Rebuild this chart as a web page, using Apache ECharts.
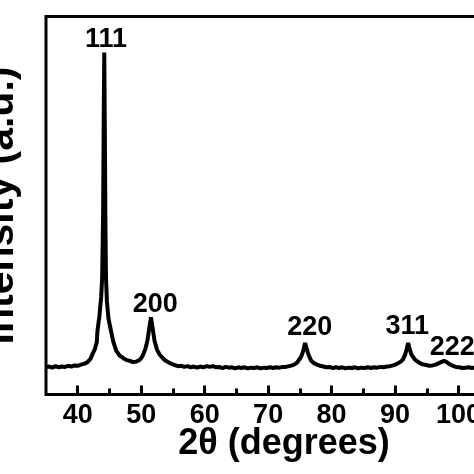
<!DOCTYPE html>
<html>
<head>
<meta charset="utf-8">
<script src="https://cdn.jsdelivr.net/npm/echarts@6/dist/echarts.min.js"></script>
<style>
html,body{margin:0;padding:0;background:#fff;}
#chart{width:474px;height:474px;}
</style>
</head>
<body>
<div id="chart"></div>
<script>
// 2θ positions (degrees)
const twoTheta = [
35,35.5,36,36.5,37,37.5,38,38.5,39,39.5,40,40.5,41,41.5,42,42.3,42.7,43.0,43.11,43.4,43.7,43.85,44.0,44.1,44.18,44.27,44.36,44.45,44.6,44.85,45.27,45.6,46.06,46.6,47.2,47.7,48.2,48.7,49.2,49.6,50.0,50.3,50.65,50.98,51.25,51.54,51.8,52.09,52.5,52.9,53.3,53.8,54.3,54.8,55.3,55.8,56.3,56.8,57.3,57.8,58.3,58.8,59.3,59.8,60.3,60.8,61.3,61.8,62.3,62.8,63.3,63.8,64.3,64.8,65.3,65.8,66.3,66.8,67.3,67.8,68.3,68.8,69.3,69.8,70.3,70.8,71.3,71.8,72.3,72.8,73.3,73.8,74.2,74.6,74.87,75.2,75.5,75.7,75.83,76.0,76.3,76.76,77.2,77.7,78.2,78.7,79.2,79.7,80.2,80.7,81.2,81.7,82.2,82.7,83.2,83.7,84.2,84.7,85.2,85.7,86.2,86.7,87.2,87.7,88.2,88.7,89.2,89.7,90.3,90.9,91.25,91.6,91.85,92.06,92.3,92.6,93.14,93.7,94.3,94.9,95.4,95.9,96.4,96.9,97.4,97.73,98.1,98.6,99.1,99.6,100.1,100.6,101.1,101.6,102.1,102.6,103.1,103.6,104.1,105
];
// intensity (a.u.)
const intensity = [
7.2,7.4,7.1,7.5,7.2,7.4,7.3,7.6,7.4,7.7,7.6,7.9,8.1,8.5,9.4,10.6,12.0,13.8,16.9,20.5,26,31,48,74,90.5,70,46,31,24.5,20,16.6,14.0,11.6,10.3,9.6,9.1,8.9,8.6,8.7,9.0,9.6,10.5,12.0,14.3,17.3,20.4,17.6,14.3,11.8,10.6,9.8,9.0,8.5,8.1,7.8,7.5,7.6,7.3,7.5,7.2,7.4,7.1,7.4,7.2,7.5,7.3,7.5,7.2,7.3,7.0,7.3,7.1,7.2,6.9,7.2,7.0,7.2,6.9,7.1,7.0,7.2,6.9,7.1,7.0,7.2,7.0,7.2,7.1,7.3,7.3,7.5,7.7,8.0,8.5,9.0,10.0,11.4,12.8,13.6,12.6,10.8,9.0,8.3,7.9,7.6,7.4,7.2,7.3,7.0,7.2,7.0,7.2,6.9,7.1,7.0,7.2,6.9,7.1,7.0,7.2,7.0,7.2,7.1,7.3,7.2,7.4,7.5,7.7,8.1,8.7,9.3,10.6,12.2,13.6,12.0,10.5,9.2,8.5,8.0,7.8,7.6,7.7,7.9,8.3,8.7,8.9,8.6,8.0,7.6,7.3,7.2,7.0,7.1,7.2,7.0,7.1,6.9,7.1,7.0,7.1
];
// peak labels (Miller indices) and their positions
const peakLabels = ['111','200','220','311','222'];
const peakLabelX = [44.45, 52.2, 76.57, 91.93, 99.0];
const peakLabelY = [94.0, 23.8, 17.6, 18.0, 12.5];
// axis ticks
const majorTicks = [40,50,60,70,80,90,100];
const minorTicks = [45,55,65,75,85,95,105];

const FONT = "'Liberation Sans', Arial, sans-serif";
const chart = echarts.init(document.getElementById('chart'), null, {renderer:'canvas'});
const lineData = twoTheta.map((t,i)=>[t,intensity[i]]);
const labelData = peakLabels.map((s,i)=>({value:[peakLabelX[i],peakLabelY[i]], name:s}));

chart.setOption({
  animation:false,
  backgroundColor:'#fff',
  grid:{left:46,top:16.5,width:476,height:378,containLabel:false,outerBoundsMode:'none',show:true,borderColor:'#000',borderWidth:3,backgroundColor:'transparent'},
  xAxis:[{
    type:'value',min:35,max:110,
    axisLine:{show:false},
    splitLine:{show:false},
    axisTick:{show:true,inside:true,length:9,customValues:majorTicks,lineStyle:{color:'#000',width:3}},
    axisLabel:{show:true,customValues:majorTicks,color:'#000',fontFamily:FONT,fontWeight:'bold',fontSize:27,margin:8},
    name:'2θ (degrees)',nameLocation:'middle',nameGap:32,nameMoveOverlap:false,
    nameTextStyle:{color:'#000',fontFamily:FONT,fontWeight:'bold',fontSize:36}
  },{
    type:'value',min:35,max:110,position:'bottom',
    axisLine:{show:false},splitLine:{show:false},
    axisTick:{show:true,inside:true,length:6,customValues:minorTicks,lineStyle:{color:'#000',width:3}},
    axisLabel:{show:false}
  }],
  yAxis:{
    type:'value',min:0,max:100,
    axisLine:{show:false},axisTick:{show:false},axisLabel:{show:false},splitLine:{show:false},
    name:'Intensity (a.u.)',nameLocation:'middle',nameGap:24,nameRotate:90,nameMoveOverlap:false,
    nameTextStyle:{color:'#000',fontFamily:FONT,fontWeight:'bold',fontSize:41}
  },
  series:[{
    type:'line',data:lineData,showSymbol:false,symbol:'none',clip:true,
    lineStyle:{color:'#000',width:4},z:3
  },{
    type:'scatter',data:labelData,symbolSize:0,
    itemStyle:{opacity:1,color:'#000'},
    label:{show:true,position:'inside',formatter:p=>p.name,color:'#000',opacity:1,fontFamily:FONT,fontWeight:'bold',fontSize:27},
    z:4
  }]
});
</script>
</body>
</html>
